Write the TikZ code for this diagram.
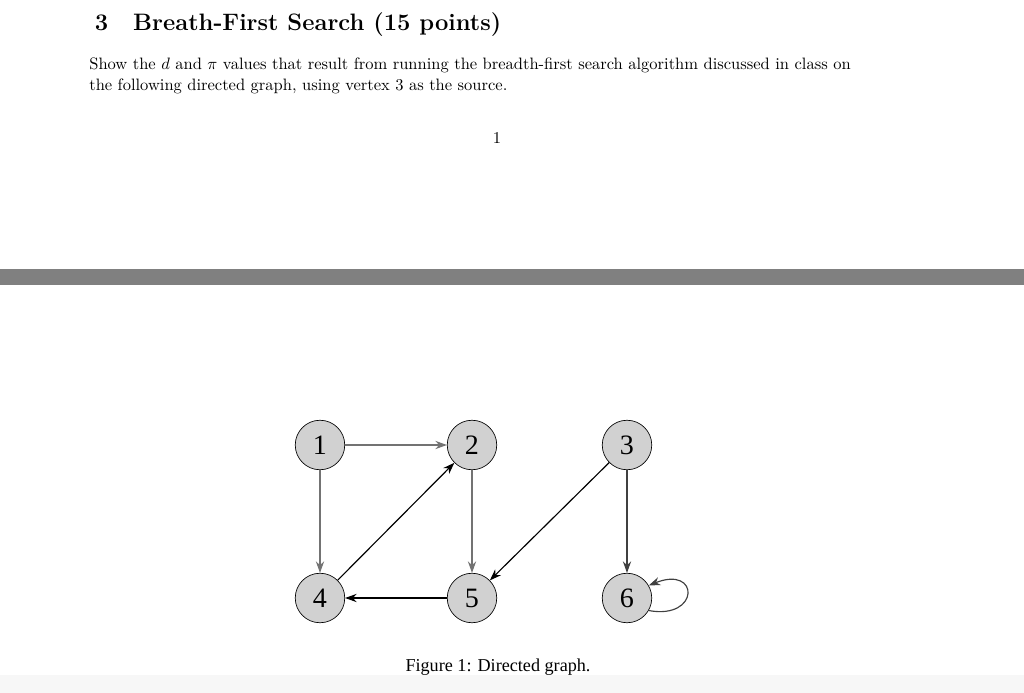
\documentclass[tikz,border=0pt]{standalone}
\usepackage{fontspec}
\newfontfamily\tnr{Liberation Serif}
\usetikzlibrary{arrows.meta}
\begin{document}
\begin{tikzpicture}[x=0.606pt,y=-0.606pt,
  v/.style={circle,draw,fill=black!18,minimum size=30pt,inner sep=0pt,font=\tnr\fontsize{17}{17}\selectfont},
  e/.style={-{Stealth[length=7pt,width=5pt]},line width=0.7pt},
  eg/.style={e,draw=black!55}]
\useasboundingbox (0,0) rectangle (1024,693);
\fill[black!50] (0,269) rectangle (1024,285);
\fill[black!3] (0,675) rectangle (1024,693);
\node[anchor=base west,font=\bfseries\Large] (t) at (89,31) {3\hspace{1.05em}Breath-First Search (15 points)};
\node[anchor=base west,font=\normalsize,inner sep=0pt] (p1) at (89,70) {Show the $d$ and $\pi$ values that result from running the breadth-first search algorithm discussed in class on};
\node[anchor=base west,font=\normalsize,inner sep=0pt] (p2) at (89,91) {the following directed graph, using vertex 3 as the source.};
\node[font=\normalsize] (pg) at (497,138) {1};
\node[v] (n1) at (320,445) {1};
\node[v] (n2) at (472,445) {2};
\node[v] (n3) at (627,445) {3};
\node[v] (n4) at (320,598) {4};
\node[v] (n5) at (472,598) {5};
\node[v] (n6) at (627,598) {6};
\draw[eg] (n1) -- (n2);
\draw[eg] (n1) -- (n4);
\draw[eg] (n2) -- (n5);
\draw[e] (n4) -- (n2);
\draw[e] (n5) -- (n4);
\draw[e] (n3) -- (n5);
\draw[e,draw=black!75] (n3) -- (n6);
\draw[e,draw=black!75] (n6.-30) .. controls (700,620) and (700,565) .. (n6.30);
\node[font=\tnr\fontsize{11}{11}\selectfont] (cap) at (498,667) {Figure 1: Directed graph.};
\end{tikzpicture}
\end{document}
